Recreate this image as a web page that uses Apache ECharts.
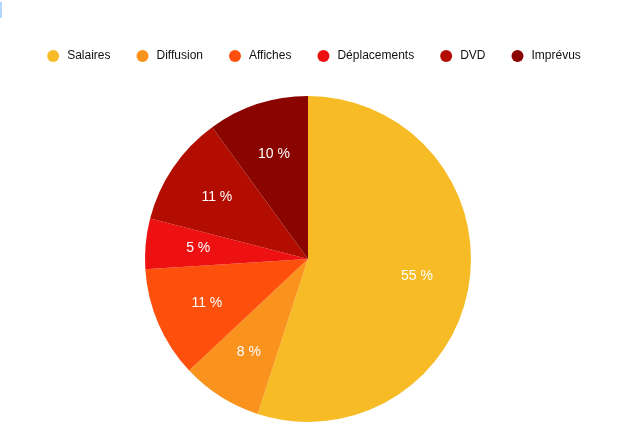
<!DOCTYPE html>
<html>
<head>
<meta charset="utf-8">
<script src="https://cdn.jsdelivr.net/npm/echarts@6/dist/echarts.min.js"></script>
<style>
  html, body { margin: 0; padding: 0; background: #fff; }
  #chart { width: 628px; height: 436px; }
</style>
</head>
<body>
<div id="chart"></div>
<script>
  // Budget breakdown (percent)
  var categories = ['Salaires', 'Diffusion', 'Affiches', 'Déplacements', 'DVD', 'Imprévus'];
  var values = [55, 8, 11, 5, 11, 10];
  var colors = ['#f6bb25', '#fa921e', '#fc500c', '#ee1111', '#b30c00', '#8a0500'];

  var pieData = categories.map(function (name, i) {
    return { name: name, value: values[i] };
  });

  var chart = echarts.init(document.getElementById('chart'));

  chart.setOption({
    animation: false,
    color: colors,
    legend: {
      top: 45,
      left: 'center',
      icon: 'circle',
      itemWidth: 12,
      itemHeight: 12,
      itemGap: 26,
      textStyle: {
        fontFamily: 'Liberation Sans, Arial, sans-serif',
        fontSize: 12,
        color: '#111',
        padding: [0, 0, 0, 3]
      },
      data: categories
    },
    graphic: [{
      type: 'rect',
      shape: { x: 0, y: 2, width: 2, height: 16 },
      style: { fill: '#b3d7ff' }
    }],
    series: [
      {
        type: 'pie',
        center: [308, 259],
        radius: [0, 163],
        startAngle: 90,
        clockwise: true,
        label: { show: false },
        labelLine: { show: false },
        itemStyle: { borderWidth: 0 },
        emphasis: { disabled: true },
        data: pieData
      },
      {
        // label-only ring so texts sit at ~2/3 of the radius
        type: 'pie',
        center: [308, 259],
        radius: [107, 107.5],
        startAngle: 90,
        clockwise: true,
        silent: true,
        legendHoverLink: false,
        itemStyle: { color: 'rgba(0,0,0,0)', borderWidth: 0 },
        label: {
          show: true,
          position: 'inside',
          formatter: '{c} %',
          color: '#fff',
          fontFamily: 'Liberation Sans, Arial, sans-serif',
          fontSize: 14,
          textBorderWidth: 0
        },
        labelLine: { show: false },
        emphasis: { disabled: true },
        data: pieData
      }
    ]
  });
</script>
</body>
</html>
